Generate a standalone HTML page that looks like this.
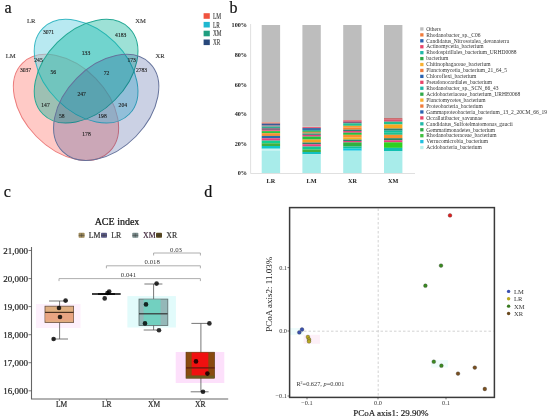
<!DOCTYPE html>
<html><head><meta charset="utf-8"><style>
html,body{margin:0;padding:0;background:#fff;width:550px;height:420px;overflow:hidden}
svg{display:block;font-family:"Liberation Serif",serif;filter:blur(0.35px)}
</style></head><body>
<svg width="550" height="420" viewBox="0 0 550 420">

<g id="venn">
 <ellipse cx="66" cy="107.4" rx="62" ry="41.5" transform="rotate(45.5 66 107.4)" fill="#ff6154" fill-opacity="0.333" stroke="#ec7c7c" stroke-width="1.0"/>
 <ellipse cx="86.1" cy="71.2" rx="60.9" ry="40.7" transform="rotate(45 86.1 71.2)" fill="#80d7e6" fill-opacity="0.555" stroke="#38b8c4" stroke-width="1.0"/>
 <ellipse cx="86.1" cy="71.2" rx="60.9" ry="40.7" transform="rotate(-45 86.1 71.2)" fill="#00b194" fill-opacity="0.386" stroke="#22a894" stroke-width="1.0"/>
 <ellipse cx="106.2" cy="107.4" rx="62" ry="41.5" transform="rotate(-45.5 106.2 107.4)" fill="#001b79" fill-opacity="0.202" stroke="#65739c" stroke-width="1.0"/>
</g>

<text x="4.6" y="13" font-size="16" text-anchor="start" font-weight="normal" fill="#111" stroke="#111" stroke-width="0.2">a</text>
<text x="229.4" y="12.8" font-size="16" text-anchor="start" font-weight="normal" fill="#111" stroke="#111" stroke-width="0.2">b</text>
<text x="3.8" y="197" font-size="16" text-anchor="start" font-weight="normal" fill="#111" stroke="#111" stroke-width="0.2">c</text>
<text x="204.3" y="197" font-size="16" text-anchor="start" font-weight="normal" fill="#111" stroke="#111" stroke-width="0.2">d</text>
<text x="31.3" y="22.5" font-size="6.6" text-anchor="middle" font-weight="normal" fill="#333" stroke="#333" stroke-width="0.12">LR</text>
<text x="10.8" y="58" font-size="6.6" text-anchor="middle" font-weight="normal" fill="#333" stroke="#333" stroke-width="0.12">LM</text>
<text x="140.5" y="22.5" font-size="6.6" text-anchor="middle" font-weight="normal" fill="#333" stroke="#333" stroke-width="0.12">XM</text>
<text x="160" y="58" font-size="6.6" text-anchor="middle" font-weight="normal" fill="#333" stroke="#333" stroke-width="0.12">XR</text>
<text x="48.5" y="33.8" font-size="5.6" text-anchor="middle" font-weight="normal" fill="#1a1a1a" stroke="#1a1a1a" stroke-width="0.12">3071</text>
<text x="25.5" y="72.1" font-size="5.6" text-anchor="middle" font-weight="normal" fill="#1a1a1a" stroke="#1a1a1a" stroke-width="0.12">3037</text>
<text x="120.7" y="36.8" font-size="5.6" text-anchor="middle" font-weight="normal" fill="#1a1a1a" stroke="#1a1a1a" stroke-width="0.12">4183</text>
<text x="141.5" y="72.1" font-size="5.6" text-anchor="middle" font-weight="normal" fill="#1a1a1a" stroke="#1a1a1a" stroke-width="0.12">2783</text>
<text x="38.5" y="62.3" font-size="5.6" text-anchor="middle" font-weight="normal" fill="#1a1a1a" stroke="#1a1a1a" stroke-width="0.12">245</text>
<text x="131.6" y="62.099999999999994" font-size="5.6" text-anchor="middle" font-weight="normal" fill="#1a1a1a" stroke="#1a1a1a" stroke-width="0.12">173</text>
<text x="86" y="54.8" font-size="5.6" text-anchor="middle" font-weight="normal" fill="#1a1a1a" stroke="#1a1a1a" stroke-width="0.12">133</text>
<text x="53.2" y="74.2" font-size="5.6" text-anchor="middle" font-weight="normal" fill="#1a1a1a" stroke="#1a1a1a" stroke-width="0.12">56</text>
<text x="106.5" y="74.8" font-size="5.6" text-anchor="middle" font-weight="normal" fill="#1a1a1a" stroke="#1a1a1a" stroke-width="0.12">72</text>
<text x="81.7" y="95.8" font-size="5.6" text-anchor="middle" font-weight="normal" fill="#1a1a1a" stroke="#1a1a1a" stroke-width="0.12">247</text>
<text x="45.5" y="107.39999999999999" font-size="5.6" text-anchor="middle" font-weight="normal" fill="#1a1a1a" stroke="#1a1a1a" stroke-width="0.12">147</text>
<text x="122.8" y="107.39999999999999" font-size="5.6" text-anchor="middle" font-weight="normal" fill="#1a1a1a" stroke="#1a1a1a" stroke-width="0.12">204</text>
<text x="61.7" y="117.8" font-size="5.6" text-anchor="middle" font-weight="normal" fill="#1a1a1a" stroke="#1a1a1a" stroke-width="0.12">58</text>
<text x="102.5" y="118.1" font-size="5.6" text-anchor="middle" font-weight="normal" fill="#1a1a1a" stroke="#1a1a1a" stroke-width="0.12">198</text>
<text x="86.5" y="136.20000000000002" font-size="5.6" text-anchor="middle" font-weight="normal" fill="#1a1a1a" stroke="#1a1a1a" stroke-width="0.12">178</text>
<rect x="203.6" y="13.2" width="6.2" height="5.6" fill="#f0533f"/>
<text x="213" y="18.799999999999997" font-size="7.2" text-anchor="start" font-weight="normal" fill="#444" textLength="8.2" lengthAdjust="spacingAndGlyphs" stroke="#444" stroke-width="0.158">LM</text>
<rect x="203.6" y="21.9" width="6.2" height="5.6" fill="#1fb8d0"/>
<text x="213" y="27.549999999999997" font-size="7.2" text-anchor="start" font-weight="normal" fill="#444" textLength="6.8" lengthAdjust="spacingAndGlyphs" stroke="#444" stroke-width="0.158">LR</text>
<rect x="203.6" y="30.7" width="6.2" height="5.6" fill="#1f9e80"/>
<text x="213" y="36.3" font-size="7.2" text-anchor="start" font-weight="normal" fill="#444" textLength="8.6" lengthAdjust="spacingAndGlyphs" stroke="#444" stroke-width="0.158">XM</text>
<rect x="203.6" y="39.5" width="6.2" height="5.6" fill="#27477a"/>
<text x="213" y="45.050000000000004" font-size="7.2" text-anchor="start" font-weight="normal" fill="#444" textLength="7.2" lengthAdjust="spacingAndGlyphs" stroke="#444" stroke-width="0.158">XR</text>
<line x1="250.6" y1="24" x2="250.6" y2="173.5" stroke="#d8d8d8" stroke-width="0.8"/>
<line x1="250.6" y1="173.5" x2="415" y2="173.5" stroke="#d8d8d8" stroke-width="0.8"/>
<text x="247" y="27.3" font-size="6.2" text-anchor="end" font-weight="bold" fill="#222" >100%</text>
<text x="247" y="56.9" font-size="6.2" text-anchor="end" font-weight="bold" fill="#222" >80%</text>
<text x="247" y="86.5" font-size="6.2" text-anchor="end" font-weight="bold" fill="#222" >60%</text>
<text x="247" y="116.10000000000001" font-size="6.2" text-anchor="end" font-weight="bold" fill="#222" >40%</text>
<text x="247" y="145.70000000000002" font-size="6.2" text-anchor="end" font-weight="bold" fill="#222" >20%</text>
<text x="247" y="175.3" font-size="6.2" text-anchor="end" font-weight="bold" fill="#222" >0%</text>
<rect x="261.7" y="25" width="18.4" height="97.50" fill="#bdbdbd"/>
<rect x="261.7" y="122.50" width="18.4" height="1.15" fill="#f07050"/>
<rect x="261.7" y="123.60" width="18.4" height="1.65" fill="#3a5a98"/>
<rect x="261.7" y="125.20" width="18.4" height="1.45" fill="#8a7a90"/>
<rect x="261.7" y="126.60" width="18.4" height="1.55" fill="#30b090"/>
<rect x="261.7" y="128.10" width="18.4" height="2.15" fill="#8a6a80"/>
<rect x="261.7" y="130.20" width="18.4" height="0.95" fill="#e8507a"/>
<rect x="261.7" y="131.10" width="18.4" height="2.15" fill="#30c040"/>
<rect x="261.7" y="133.20" width="18.4" height="2.75" fill="#f89030"/>
<rect x="261.7" y="135.90" width="18.4" height="2.45" fill="#2a6aa8"/>
<rect x="261.7" y="138.30" width="18.4" height="2.35" fill="#e84080"/>
<rect x="261.7" y="140.60" width="18.4" height="2.75" fill="#10d090"/>
<rect x="261.7" y="143.30" width="18.4" height="2.75" fill="#40b040"/>
<rect x="261.7" y="146.00" width="18.4" height="2.75" fill="#10c8c8"/>
<rect x="261.7" y="148.70" width="18.4" height="1.85" fill="#c8f4f4"/>
<rect x="261.7" y="150.5" width="18.4" height="22.50" fill="#a8ecea"/>
<text x="270.9" y="183.0" font-size="6.2" text-anchor="middle" font-weight="bold" fill="#222" >LR</text>
<rect x="302.4" y="25" width="18.4" height="101.80" fill="#bdbdbd"/>
<rect x="302.4" y="126.80" width="18.4" height="0.35" fill="#d8d8b8"/>
<rect x="302.4" y="127.10" width="18.4" height="1.05" fill="#e85070"/>
<rect x="302.4" y="128.10" width="18.4" height="1.84" fill="#3060a0"/>
<rect x="302.4" y="129.89" width="18.4" height="1.25" fill="#30b0a0"/>
<rect x="302.4" y="131.08" width="18.4" height="1.05" fill="#50b050"/>
<rect x="302.4" y="132.08" width="18.4" height="1.54" fill="#c89050"/>
<rect x="302.4" y="133.58" width="18.4" height="1.35" fill="#30907a"/>
<rect x="302.4" y="134.87" width="18.4" height="1.74" fill="#e84080"/>
<rect x="302.4" y="136.56" width="18.4" height="3.04" fill="#20c040"/>
<rect x="302.4" y="139.55" width="18.4" height="3.04" fill="#f8a020"/>
<rect x="302.4" y="142.54" width="18.4" height="1.74" fill="#30806a"/>
<rect x="302.4" y="144.24" width="18.4" height="2.34" fill="#e84080"/>
<rect x="302.4" y="146.53" width="18.4" height="3.04" fill="#10c890"/>
<rect x="302.4" y="149.52" width="18.4" height="2.54" fill="#40b040"/>
<rect x="302.4" y="152.01" width="18.4" height="2.24" fill="#10c0c0"/>
<rect x="302.4" y="154.2" width="18.4" height="18.80" fill="#a8ecea"/>
<text x="311.59999999999997" y="183.0" font-size="6.2" text-anchor="middle" font-weight="bold" fill="#222" >LM</text>
<rect x="343.2" y="25" width="18.4" height="95.30" fill="#bdbdbd"/>
<rect x="343.2" y="120.30" width="18.4" height="1.45" fill="#e05060"/>
<rect x="343.2" y="121.70" width="18.4" height="1.65" fill="#8a5a80"/>
<rect x="343.2" y="123.30" width="18.4" height="2.55" fill="#20c090"/>
<rect x="343.2" y="125.80" width="18.4" height="1.75" fill="#f8a030"/>
<rect x="343.2" y="127.50" width="18.4" height="2.25" fill="#f88030"/>
<rect x="343.2" y="129.70" width="18.4" height="1.35" fill="#308070"/>
<rect x="343.2" y="131.00" width="18.4" height="1.75" fill="#e84080"/>
<rect x="343.2" y="132.70" width="18.4" height="2.15" fill="#20c040"/>
<rect x="343.2" y="134.80" width="18.4" height="2.85" fill="#f89030"/>
<rect x="343.2" y="137.60" width="18.4" height="2.05" fill="#f8b020"/>
<rect x="343.2" y="139.60" width="18.4" height="1.45" fill="#308070"/>
<rect x="343.2" y="141.00" width="18.4" height="1.45" fill="#e84080"/>
<rect x="343.2" y="142.40" width="18.4" height="4.15" fill="#30b040"/>
<rect x="343.2" y="146.50" width="18.4" height="2.15" fill="#10c0a0"/>
<rect x="343.2" y="148.60" width="18.4" height="2.15" fill="#10c8e0"/>
<rect x="343.2" y="150.7" width="18.4" height="22.30" fill="#a8ecea"/>
<text x="352.4" y="183.0" font-size="6.2" text-anchor="middle" font-weight="bold" fill="#222" >XR</text>
<rect x="384.0" y="25" width="18.4" height="93.20" fill="#bdbdbd"/>
<rect x="384.0" y="118.20" width="18.4" height="1.44" fill="#c05050"/>
<rect x="384.0" y="119.59" width="18.4" height="2.14" fill="#e05070"/>
<rect x="384.0" y="121.68" width="18.4" height="2.83" fill="#20c090"/>
<rect x="384.0" y="124.46" width="18.4" height="4.13" fill="#f8a820"/>
<rect x="384.0" y="128.54" width="18.4" height="2.14" fill="#308070"/>
<rect x="384.0" y="130.62" width="18.4" height="2.14" fill="#10c0a0"/>
<rect x="384.0" y="132.71" width="18.4" height="2.14" fill="#20c090"/>
<rect x="384.0" y="134.80" width="18.4" height="3.43" fill="#f89030"/>
<rect x="384.0" y="138.18" width="18.4" height="2.14" fill="#308060"/>
<rect x="384.0" y="140.27" width="18.4" height="2.14" fill="#e84080"/>
<rect x="384.0" y="142.35" width="18.4" height="5.52" fill="#30d020"/>
<rect x="384.0" y="147.82" width="18.4" height="3.23" fill="#10c0b0"/>
<rect x="384.0" y="151.0" width="18.4" height="22.00" fill="#a8ecea"/>
<text x="393.2" y="183.0" font-size="6.2" text-anchor="middle" font-weight="bold" fill="#222" >XM</text>
<rect x="420.2" y="27.30" width="3.3" height="3.3" fill="#bdbdbd"/>
<text x="426.3" y="30.7" font-size="5.5" text-anchor="start" font-weight="normal" fill="#333" >Others</text>
<rect x="420.2" y="33.23" width="3.3" height="3.3" fill="#f07c3c"/>
<text x="426.3" y="36.629999999999995" font-size="5.5" text-anchor="start" font-weight="normal" fill="#333" >Rhodanobacter_sp._C06</text>
<rect x="420.2" y="39.16" width="3.3" height="3.3" fill="#2a62b0"/>
<text x="426.3" y="42.559999999999995" font-size="5.5" text-anchor="start" font-weight="normal" fill="#333" >Candidatus_Nitrosotalea_devanaterra</text>
<rect x="420.2" y="45.09" width="3.3" height="3.3" fill="#e8456a"/>
<text x="426.3" y="48.489999999999995" font-size="5.5" text-anchor="start" font-weight="normal" fill="#333" >Actinomycetia_bacterium</text>
<rect x="420.2" y="51.02" width="3.3" height="3.3" fill="#20b8a8"/>
<text x="426.3" y="54.419999999999995" font-size="5.5" text-anchor="start" font-weight="normal" fill="#333" >Rhodospirillales_bacterium_URHD0088</text>
<rect x="420.2" y="56.95" width="3.3" height="3.3" fill="#30a848"/>
<text x="426.3" y="60.349999999999994" font-size="5.5" text-anchor="start" font-weight="normal" fill="#333" >bacterium</text>
<rect x="420.2" y="62.88" width="3.3" height="3.3" fill="#f8b030"/>
<text x="426.3" y="66.27999999999999" font-size="5.5" text-anchor="start" font-weight="normal" fill="#333" >Chitinophagaceae_bacterium</text>
<rect x="420.2" y="68.81" width="3.3" height="3.3" fill="#f07c3c"/>
<text x="426.3" y="72.21" font-size="5.5" text-anchor="start" font-weight="normal" fill="#333" >Planctomycetia_bacterium_21_64_5</text>
<rect x="420.2" y="74.74" width="3.3" height="3.3" fill="#2a62b0"/>
<text x="426.3" y="78.14" font-size="5.5" text-anchor="start" font-weight="normal" fill="#333" >Chloroflexi_bacterium</text>
<rect x="420.2" y="80.67" width="3.3" height="3.3" fill="#e8456a"/>
<text x="426.3" y="84.07" font-size="5.5" text-anchor="start" font-weight="normal" fill="#333" >Pseudonocardiales_bacterium</text>
<rect x="420.2" y="86.60" width="3.3" height="3.3" fill="#20b8a8"/>
<text x="426.3" y="89.99999999999999" font-size="5.5" text-anchor="start" font-weight="normal" fill="#333" >Rhodanobacter_sp._SCN_66_43</text>
<rect x="420.2" y="92.53" width="3.3" height="3.3" fill="#30a848"/>
<text x="426.3" y="95.92999999999999" font-size="5.5" text-anchor="start" font-weight="normal" fill="#333" >Acidobacteriaceae_bacterium_URHE0068</text>
<rect x="420.2" y="98.46" width="3.3" height="3.3" fill="#f8b030"/>
<text x="426.3" y="101.86" font-size="5.5" text-anchor="start" font-weight="normal" fill="#333" >Planctomycetes_bacterium</text>
<rect x="420.2" y="104.39" width="3.3" height="3.3" fill="#f07c3c"/>
<text x="426.3" y="107.79" font-size="5.5" text-anchor="start" font-weight="normal" fill="#333" >Proteobacteria_bacterium</text>
<rect x="420.2" y="110.32" width="3.3" height="3.3" fill="#2a62b0"/>
<text x="426.3" y="113.71999999999998" font-size="5.5" text-anchor="start" font-weight="normal" fill="#333" >Gammaproteobacteria_bacterium_13_2_20CM_66_19</text>
<rect x="420.2" y="116.25" width="3.3" height="3.3" fill="#e8456a"/>
<text x="426.3" y="119.64999999999999" font-size="5.5" text-anchor="start" font-weight="normal" fill="#333" >Occallatibacter_savannae</text>
<rect x="420.2" y="122.18" width="3.3" height="3.3" fill="#20b8a8"/>
<text x="426.3" y="125.58" font-size="5.5" text-anchor="start" font-weight="normal" fill="#333" >Candidatus_Sulfotelmatomonas_gaucii</text>
<rect x="420.2" y="128.11" width="3.3" height="3.3" fill="#30a848"/>
<text x="426.3" y="131.51000000000002" font-size="5.5" text-anchor="start" font-weight="normal" fill="#333" >Gemmatimonadetes_bacterium</text>
<rect x="420.2" y="134.04" width="3.3" height="3.3" fill="#40c040"/>
<text x="426.3" y="137.44" font-size="5.5" text-anchor="start" font-weight="normal" fill="#333" >Rhodanobacteraceae_bacterium</text>
<rect x="420.2" y="139.97" width="3.3" height="3.3" fill="#20c0e0"/>
<text x="426.3" y="143.37" font-size="5.5" text-anchor="start" font-weight="normal" fill="#333" >Verrucomicrobia_bacterium</text>
<rect x="420.2" y="145.90" width="3.3" height="3.3" fill="#b8f0ec"/>
<text x="426.3" y="149.3" font-size="5.5" text-anchor="start" font-weight="normal" fill="#333" >Acidobacteria_bacterium</text>
<text x="117" y="225.3" font-size="10" text-anchor="middle" font-weight="normal" fill="#111"  stroke="#111" stroke-width="0.220">ACE index</text>
<rect x="78.6" y="232.8" width="6" height="5" fill="#a08c5c" rx="0.8"/>
<line x1="78.6" y1="235.3" x2="84.6" y2="235.3" stroke="#333" stroke-width="0.5"/>
<line x1="81.6" y1="233.3" x2="81.6" y2="237.3" stroke="#333" stroke-width="0.4"/>
<text x="88.8" y="238.1" font-size="7.8" text-anchor="start" font-weight="normal" fill="#2a2a2a"  stroke="#2a2a2a" stroke-width="0.172">LM</text>
<rect x="101.0" y="232.8" width="6" height="5" fill="#5c5c88" rx="0.8"/>
<line x1="101.0" y1="235.3" x2="107.0" y2="235.3" stroke="#333" stroke-width="0.5"/>
<line x1="104.0" y1="233.3" x2="104.0" y2="237.3" stroke="#333" stroke-width="0.4"/>
<text x="111.2" y="238.1" font-size="7.8" text-anchor="start" font-weight="normal" fill="#333"  stroke="#333" stroke-width="0.172">LR</text>
<rect x="132.3" y="232.8" width="6" height="5" fill="#7a8c8c" rx="0.8"/>
<line x1="132.3" y1="235.3" x2="138.3" y2="235.3" stroke="#333" stroke-width="0.5"/>
<line x1="135.3" y1="233.3" x2="135.3" y2="237.3" stroke="#333" stroke-width="0.4"/>
<text x="143.1" y="238.1" font-size="7.8" text-anchor="start" font-weight="normal" fill="#3a2035"  stroke="#3a2035" stroke-width="0.172">XM</text>
<rect x="156.0" y="232.8" width="6" height="5" fill="#5a4a20" rx="0.8"/>
<line x1="156.0" y1="235.3" x2="162.0" y2="235.3" stroke="#333" stroke-width="0.5"/>
<line x1="159.0" y1="233.3" x2="159.0" y2="237.3" stroke="#333" stroke-width="0.4"/>
<text x="166.3" y="238.1" font-size="7.8" text-anchor="start" font-weight="normal" fill="#333"  stroke="#333" stroke-width="0.172">XR</text>
<line x1="31.5" y1="247" x2="31.5" y2="399" stroke="#666" stroke-width="1.1"/>
<line x1="31" y1="399" x2="228.2" y2="399" stroke="#666" stroke-width="1.1"/>
<line x1="28.5" y1="250.5" x2="31.5" y2="250.5" stroke="#555" stroke-width="0.8"/>
<text x="28" y="253.6" font-size="9" text-anchor="end" font-weight="normal" fill="#222"  stroke="#222" stroke-width="0.198">21,000</text>
<line x1="28.5" y1="278.6" x2="31.5" y2="278.6" stroke="#555" stroke-width="0.8"/>
<text x="28" y="281.66" font-size="9" text-anchor="end" font-weight="normal" fill="#222"  stroke="#222" stroke-width="0.198">20,000</text>
<line x1="28.5" y1="306.6" x2="31.5" y2="306.6" stroke="#555" stroke-width="0.8"/>
<text x="28" y="309.72" font-size="9" text-anchor="end" font-weight="normal" fill="#222"  stroke="#222" stroke-width="0.198">19,000</text>
<line x1="28.5" y1="334.7" x2="31.5" y2="334.7" stroke="#555" stroke-width="0.8"/>
<text x="28" y="337.78000000000003" font-size="9" text-anchor="end" font-weight="normal" fill="#222"  stroke="#222" stroke-width="0.198">18,000</text>
<line x1="28.5" y1="362.7" x2="31.5" y2="362.7" stroke="#555" stroke-width="0.8"/>
<text x="28" y="365.84000000000003" font-size="9" text-anchor="end" font-weight="normal" fill="#222"  stroke="#222" stroke-width="0.198">17,000</text>
<line x1="28.5" y1="390.8" x2="31.5" y2="390.8" stroke="#555" stroke-width="0.8"/>
<text x="28" y="393.90000000000003" font-size="9" text-anchor="end" font-weight="normal" fill="#222"  stroke="#222" stroke-width="0.198">16,000</text>
<line x1="59.4" y1="399" x2="59.4" y2="401" stroke="#666" stroke-width="0.8"/>
<text x="61.5" y="407.3" font-size="7.5" text-anchor="middle" font-weight="normal" fill="#222"  stroke="#222" stroke-width="0.165">LM</text>
<line x1="106.6" y1="399" x2="106.6" y2="401" stroke="#666" stroke-width="0.8"/>
<text x="106.8" y="407.3" font-size="7.5" text-anchor="middle" font-weight="normal" fill="#222"  stroke="#222" stroke-width="0.165">LR</text>
<line x1="153.4" y1="399" x2="153.4" y2="401" stroke="#666" stroke-width="0.8"/>
<text x="154.1" y="407.3" font-size="7.5" text-anchor="middle" font-weight="normal" fill="#222"  stroke="#222" stroke-width="0.165">XM</text>
<line x1="200.4" y1="399" x2="200.4" y2="401" stroke="#666" stroke-width="0.8"/>
<text x="200.3" y="407.3" font-size="7.5" text-anchor="middle" font-weight="normal" fill="#222"  stroke="#222" stroke-width="0.165">XR</text>
<path d="M153.6 255.5 V253 H200.4 V255.5" fill="none" stroke="#999" stroke-width="0.8"/>
<text x="176" y="251.6" font-size="6.8" text-anchor="middle" font-weight="normal" fill="#333" >0.03</text>
<path d="M106.4 268.3 V265.8 H200.4 V268.3" fill="none" stroke="#999" stroke-width="0.8"/>
<text x="152.2" y="264.40000000000003" font-size="6.8" text-anchor="middle" font-weight="normal" fill="#333" >0.018</text>
<path d="M59 281.1 V278.6 H200.4 V281.1" fill="none" stroke="#999" stroke-width="0.8"/>
<text x="128.5" y="277.20000000000005" font-size="6.8" text-anchor="middle" font-weight="normal" fill="#333" >0.041</text>
<rect x="36" y="304" width="44.5" height="24" fill="#fdf0fc"/>
<rect x="127.4" y="296.1" width="48.5" height="31.4" fill="#e2fbfb"/>
<rect x="175.7" y="352" width="48.6" height="31" fill="#fde0fb"/>
<line x1="59.6" y1="301" x2="59.6" y2="339" stroke="#555" stroke-width="0.8"/>
<line x1="49" y1="301" x2="68" y2="301" stroke="#555" stroke-width="0.8"/>
<line x1="52" y1="339" x2="68" y2="339" stroke="#555" stroke-width="0.8"/>
<rect x="45" y="306.2" width="28.6" height="16.3" fill="#dfae80" stroke="#6a5040" stroke-width="0.8"/>
<rect x="45.4" y="312.4" width="27.8" height="8.2" fill="#e9a482"/>
<line x1="45" y1="312.4" x2="73.6" y2="312.4" stroke="#4a3020" stroke-width="1.2"/>
<line x1="92" y1="294" x2="120.7" y2="294" stroke="#111" stroke-width="1.6"/>
<rect x="98" y="293" width="17" height="2" fill="#111"/>
<line x1="153.6" y1="284" x2="153.6" y2="330" stroke="#555" stroke-width="0.8"/>
<line x1="144.4" y1="284" x2="162.4" y2="284" stroke="#555" stroke-width="0.8"/>
<line x1="143.7" y1="330" x2="157" y2="330" stroke="#555" stroke-width="0.8"/>
<rect x="139" y="299.1" width="28.8" height="26.3" fill="#94b8b8" stroke="#5a6a6a" stroke-width="0.8"/>
<rect x="143.6" y="299.5" width="17" height="25.5" fill="#72d0c0"/>
<line x1="139" y1="313.8" x2="167.6" y2="313.8" stroke="#333" stroke-width="1.2"/>
<line x1="200.9" y1="323.4" x2="200.9" y2="392" stroke="#555" stroke-width="0.8"/>
<line x1="191.4" y1="323.4" x2="208.6" y2="323.4" stroke="#555" stroke-width="0.8"/>
<line x1="190.7" y1="391.8" x2="208.6" y2="391.8" stroke="#555" stroke-width="0.8"/>
<rect x="186" y="352.2" width="28.6" height="26" fill="#8a4a10" stroke="#5a3a10" stroke-width="0.6"/>
<rect x="191.7" y="352.6" width="16.6" height="23" fill="#f01010"/>
<rect x="186.3" y="375.6" width="28" height="2.5" fill="#6a5a20"/>
<line x1="186" y1="367.9" x2="214.6" y2="367.9" stroke="#5a1a10" stroke-width="1.2"/>
<circle cx="65.6" cy="300.6" r="2.3" fill="#000" fill-opacity="0.82"/>
<circle cx="59" cy="308" r="2.3" fill="#000" fill-opacity="0.82"/>
<circle cx="60" cy="317" r="2.3" fill="#000" fill-opacity="0.82"/>
<circle cx="53.6" cy="339" r="2.3" fill="#000" fill-opacity="0.82"/>
<circle cx="109.2" cy="291.5" r="2.3" fill="#000" fill-opacity="0.82"/>
<circle cx="107.5" cy="293" r="2.3" fill="#000" fill-opacity="0.82"/>
<circle cx="104.7" cy="298.4" r="2.3" fill="#000" fill-opacity="0.82"/>
<circle cx="156.6" cy="283.6" r="2.3" fill="#000" fill-opacity="0.82"/>
<circle cx="146" cy="304.4" r="2.3" fill="#000" fill-opacity="0.82"/>
<circle cx="145" cy="323.4" r="2.3" fill="#000" fill-opacity="0.82"/>
<circle cx="159" cy="330.3" r="2.3" fill="#000" fill-opacity="0.82"/>
<circle cx="209.4" cy="323.4" r="2.3" fill="#000" fill-opacity="0.82"/>
<circle cx="196" cy="361.4" r="2.3" fill="#000" fill-opacity="0.82"/>
<circle cx="207.4" cy="373.6" r="2.3" fill="#000" fill-opacity="0.82"/>
<circle cx="203" cy="391.7" r="2.3" fill="#000" fill-opacity="0.82"/>
<line x1="378.2" y1="208.5" x2="378.2" y2="396.5" stroke="#c8c8c8" stroke-width="0.8" stroke-dasharray="2.5 2"/>
<line x1="290.5" y1="331.2" x2="493.5" y2="331.2" stroke="#c8c8c8" stroke-width="0.8" stroke-dasharray="2.5 2"/>
<rect x="289" y="328" width="14.6" height="7" fill="#effcfc"/>
<rect x="303.6" y="334.8" width="16.4" height="9" fill="#fdf0f8"/>
<rect x="431" y="360" width="17" height="7.5" fill="#effcfc"/>
<circle cx="299.3" cy="332.4" r="1.9" fill="#3a50b0" stroke="#333" stroke-width="0.3"/>
<circle cx="302" cy="329.5" r="1.9" fill="#3a50b0" stroke="#333" stroke-width="0.3"/>
<circle cx="307.9" cy="337" r="1.9" fill="#b8a820" stroke="#333" stroke-width="0.3"/>
<circle cx="309" cy="339.5" r="1.9" fill="#b8a820" stroke="#333" stroke-width="0.3"/>
<circle cx="309" cy="341.4" r="1.9" fill="#b8a820" stroke="#333" stroke-width="0.3"/>
<circle cx="450" cy="215.4" r="1.9" fill="#e02020" stroke="#333" stroke-width="0.3"/>
<circle cx="441" cy="265.6" r="1.9" fill="#3a8a20" stroke="#333" stroke-width="0.3"/>
<circle cx="425.4" cy="285.7" r="1.9" fill="#3a8a20" stroke="#333" stroke-width="0.3"/>
<circle cx="433.8" cy="361.7" r="1.9" fill="#3a8a20" stroke="#333" stroke-width="0.3"/>
<circle cx="441.4" cy="365.7" r="1.9" fill="#3a8a20" stroke="#333" stroke-width="0.3"/>
<circle cx="458" cy="373.6" r="1.9" fill="#7a5020" stroke="#333" stroke-width="0.3"/>
<circle cx="474.8" cy="367.6" r="1.9" fill="#7a5020" stroke="#333" stroke-width="0.3"/>
<circle cx="484.8" cy="389" r="1.9" fill="#7a5020" stroke="#333" stroke-width="0.3"/>
<rect x="289.6" y="207.6" width="204.8" height="189.8" fill="none" stroke="#3a3a3a" stroke-width="1.5"/>
<line x1="287.5" y1="267.6" x2="289.6" y2="267.6" stroke="#333" stroke-width="0.7"/>
<text x="287" y="269.8" font-size="6.3" text-anchor="end" font-weight="normal" fill="#333" >0.1</text>
<line x1="287.5" y1="331" x2="289.6" y2="331" stroke="#333" stroke-width="0.7"/>
<text x="287" y="333.2" font-size="6.3" text-anchor="end" font-weight="normal" fill="#333" >0.0</text>
<line x1="287.5" y1="396" x2="289.6" y2="396" stroke="#333" stroke-width="0.7"/>
<text x="287" y="398.2" font-size="6.3" text-anchor="end" font-weight="normal" fill="#333" >−0.1</text>
<line x1="307" y1="397.4" x2="307" y2="399.4" stroke="#333" stroke-width="0.7"/>
<text x="307" y="404.8" font-size="6.3" text-anchor="middle" font-weight="normal" fill="#333" >−0.1</text>
<line x1="378" y1="397.4" x2="378" y2="399.4" stroke="#333" stroke-width="0.7"/>
<text x="378" y="404.8" font-size="6.3" text-anchor="middle" font-weight="normal" fill="#333" >0.0</text>
<line x1="446" y1="397.4" x2="446" y2="399.4" stroke="#333" stroke-width="0.7"/>
<text x="446" y="404.8" font-size="6.3" text-anchor="middle" font-weight="normal" fill="#333" >0.1</text>
<text x="391" y="415.5" font-size="9" text-anchor="middle" font-weight="normal" fill="#222"  stroke="#222" stroke-width="0.198">PCoA axis1: 29.90%</text>
<text x="0" y="0" font-size="9" text-anchor="middle" fill="#222" transform="translate(272.3 294.3) rotate(-90)">PCoA axis2: 11.03%</text>
<text x="296.4" y="386.3" font-size="6.3" fill="#333">R<tspan font-size="4" dy="-2.2">2</tspan><tspan dy="2.2">=0.627, </tspan><tspan font-style="italic">p</tspan>=0.001</text>
<circle cx="508.6" cy="291.40" r="1.7" fill="#3a50b0"/>
<text x="514" y="293.79999999999995" font-size="6.5" text-anchor="start" font-weight="normal" fill="#333" >LM</text>
<circle cx="508.6" cy="298.77" r="1.7" fill="#b8a820"/>
<text x="514" y="301.16999999999996" font-size="6.5" text-anchor="start" font-weight="normal" fill="#333" >LR</text>
<circle cx="508.6" cy="306.14" r="1.7" fill="#3a7a20"/>
<text x="514" y="308.53999999999996" font-size="6.5" text-anchor="start" font-weight="normal" fill="#333" >XM</text>
<circle cx="508.6" cy="313.51" r="1.7" fill="#6a4a20"/>
<text x="514" y="315.90999999999997" font-size="6.5" text-anchor="start" font-weight="normal" fill="#333" >XR</text>
</svg></body></html>
